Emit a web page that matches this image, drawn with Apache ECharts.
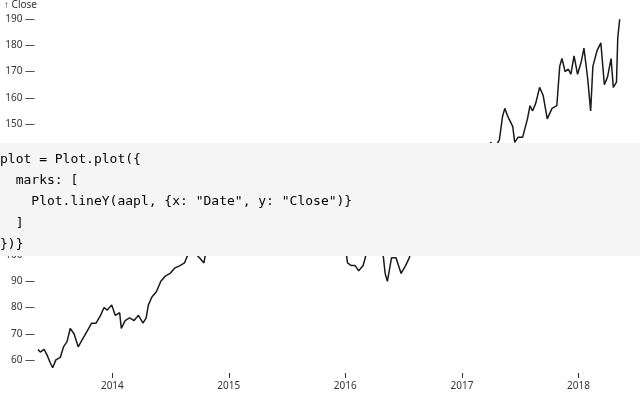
<!DOCTYPE html>
<html>
<head>
<meta charset="utf-8">
<script src="https://cdn.jsdelivr.net/npm/echarts@6/dist/echarts.min.js"></script>
<style>
  html, body { margin: 0; padding: 0; background: #fff; }
  #box { width: 640px; height: 400px; }
</style>
</head>
<body>
<div id="box"></div>
<script>
var dates = [
  "2013-05-13", "2013-05-20", "2013-06-01", "2013-06-10", "2013-06-20", "2013-06-28",
  "2013-07-08", "2013-07-22", "2013-08-01", "2013-08-12", "2013-08-22", "2013-09-03",
  "2013-09-16", "2013-09-30", "2013-10-14", "2013-10-28", "2013-11-11", "2013-11-25",
  "2013-12-06", "2013-12-16", "2013-12-30", "2014-01-10", "2014-01-24", "2014-01-29",
  "2014-02-10", "2014-02-24", "2014-03-10", "2014-03-24", "2014-04-07", "2014-04-17",
  "2014-04-24", "2014-05-05", "2014-05-19", "2014-06-02", "2014-06-16", "2014-07-01",
  "2014-07-15", "2014-08-01", "2014-08-15", "2014-09-01", "2014-09-15", "2014-10-01",
  "2014-10-15", "2014-10-28", "2014-11-15", "2014-12-01", "2014-12-15", "2015-01-05",
  "2015-01-28", "2015-02-15", "2015-03-01", "2015-03-15", "2015-04-01", "2015-04-20",
  "2015-05-01", "2015-05-20", "2015-06-05", "2015-06-25", "2015-07-15", "2015-07-30",
  "2015-08-10", "2015-08-24", "2015-09-05", "2015-09-20", "2015-10-05", "2015-10-25",
  "2015-11-10", "2015-11-25", "2015-12-10", "2015-12-28", "2016-01-08", "2016-01-20",
  "2016-02-01", "2016-02-12", "2016-02-26", "2016-03-10", "2016-03-25", "2016-04-10",
  "2016-04-25", "2016-05-05", "2016-05-12", "2016-05-25", "2016-06-08", "2016-06-24",
  "2016-07-08", "2016-07-20", "2016-07-28", "2016-08-15", "2016-09-01", "2016-09-15",
  "2016-10-01", "2016-10-20", "2016-11-05", "2016-11-15", "2016-12-01", "2016-12-15",
  "2017-01-05", "2017-01-25", "2017-02-01", "2017-02-15", "2017-03-01", "2017-03-15",
  "2017-04-01", "2017-04-14", "2017-04-28", "2017-05-08", "2017-05-15", "2017-05-24",
  "2017-06-09", "2017-06-15", "2017-06-26", "2017-07-10", "2017-07-25", "2017-08-02",
  "2017-08-10", "2017-08-20", "2017-09-01", "2017-09-12", "2017-09-25", "2017-10-10",
  "2017-10-25", "2017-11-03", "2017-11-10", "2017-11-20", "2017-11-30", "2017-12-08",
  "2017-12-18", "2017-12-29", "2018-01-10", "2018-01-18", "2018-01-30", "2018-02-08",
  "2018-02-15", "2018-02-28", "2018-03-12", "2018-03-23", "2018-04-02", "2018-04-13",
  "2018-04-20", "2018-04-30", "2018-05-04", "2018-05-10"
];
var closes = [
  64, 63, 64, 62, 59, 57,
  60, 61, 65, 67, 72, 70,
  65, 68, 71, 74, 74, 77,
  80, 79, 81, 77, 78, 72,
  75, 76, 75, 77, 74, 76,
  81, 84, 86, 90, 92, 93,
  95, 96, 97, 102, 101, 99,
  97, 106, 114, 115, 109, 106,
  118, 127, 129, 124, 124, 128,
  129, 132, 128, 127, 125, 121,
  119, 103, 112, 114, 110, 119,
  120, 118, 114, 107, 97, 96,
  96, 94, 96, 102, 105, 110,
  104, 93, 90, 99, 99, 93,
  96, 99, 104, 109, 107, 115,
  113, 117, 110, 107, 109, 116,
  117, 121, 128, 135, 139, 139,
  143, 141, 144, 153, 156, 153,
  149, 143, 145, 145, 152, 157,
  155, 158, 164, 161, 152, 156,
  157, 172, 175, 170, 171, 169,
  176, 169, 174, 179, 167, 155,
  172, 178, 181, 165, 168, 175,
  164, 166, 183, 190
];
var yTicks = [60, 70, 80, 90, 100, 110, 120, 130, 140, 150, 160, 170, 180, 190];

var chart = echarts.init(document.getElementById("box"));
var seriesData = dates.map(function (d, i) {
  return [d, closes[i]];
});

// code overlay, painted on top of the plot like in the reference
var codeFont = '13px "DejaVu Sans Mono", monospace';
var codeStyles = {
  v: { color: "#1f6b8e", font: codeFont },
  f: { color: "#7b3fa8", font: codeFont },
  p: { color: "#333333", font: codeFont },
  s: { color: "#1b8db3", font: codeFont }
};
var codeLines = [
  "{v|plot}{p| = }{v|Plot}{p|.}{f|plot}{p|({}",
  "{p|  }{f|marks}{p|: [}",
  "{p|    }{v|Plot}{p|.}{f|lineY}{p|(}{v|aapl}{p|, {}{f|x}{p|: }{s|\"Date\"}{p|, }{f|y}{p|: }{s|\"Close\"}{p|})}",
  "{p|  ]}",
  "{p|}})}"
];

chart.setOption({
  animation: false,
  backgroundColor: "#fff",
  grid: { left: 38, right: 20, top: 14, bottom: 27 },
  xAxis: {
    type: "time",
    min: "2013-05-13",
    max: "2018-05-11",
    splitLine: { show: false },
    axisLine: { show: false },
    axisTick: { show: true, length: 5, lineStyle: { color: "#333" } },
    axisLabel: {
      color: "#333",
      fontSize: 10,
      fontFamily: "Noto Sans",
      formatter: function (v) {
        var d = new Date(v);
        return d.getMonth() === 0 ? String(d.getFullYear()) : "";
      }
    },
    minInterval: 365 * 24 * 3600 * 1000
  },
  yAxis: {
    type: "value",
    min: 55,
    max: 192,
    interval: 5,
    splitLine: { show: false },
    axisLine: { show: false },
    axisTick: { show: false },
    axisLabel: {
      color: "#333",
      fontSize: 10,
      fontFamily: "Noto Sans",
      margin: 3,
      formatter: function (v) {
        return yTicks.indexOf(v) >= 0 ? v + " —" : "";
      }
    }
  },
  series: [
    {
      type: "line",
      data: seriesData,
      showSymbol: false,
      lineStyle: { color: "#1a1a1a", width: 1.5 },
      z: 2
    }
  ],
  graphic: [
    {
      type: "text",
      left: 4,
      top: 0,
      style: { text: "↑ Close", fill: "#333", font: '10px "Noto Sans"' }
    },
    {
      type: "rect",
      left: 0,
      top: 143,
      z: 10,
      shape: { width: 640, height: 113 },
      style: { fill: "#f5f5f5" }
    },
    {
      type: "text",
      left: 0,
      top: 149,
      z: 11,
      style: {
        text: codeLines.join("\n"),
        rich: codeStyles,
        lineHeight: 21.2,
        font: codeFont
      }
    }
  ]
});
</script>
</body>
</html>
